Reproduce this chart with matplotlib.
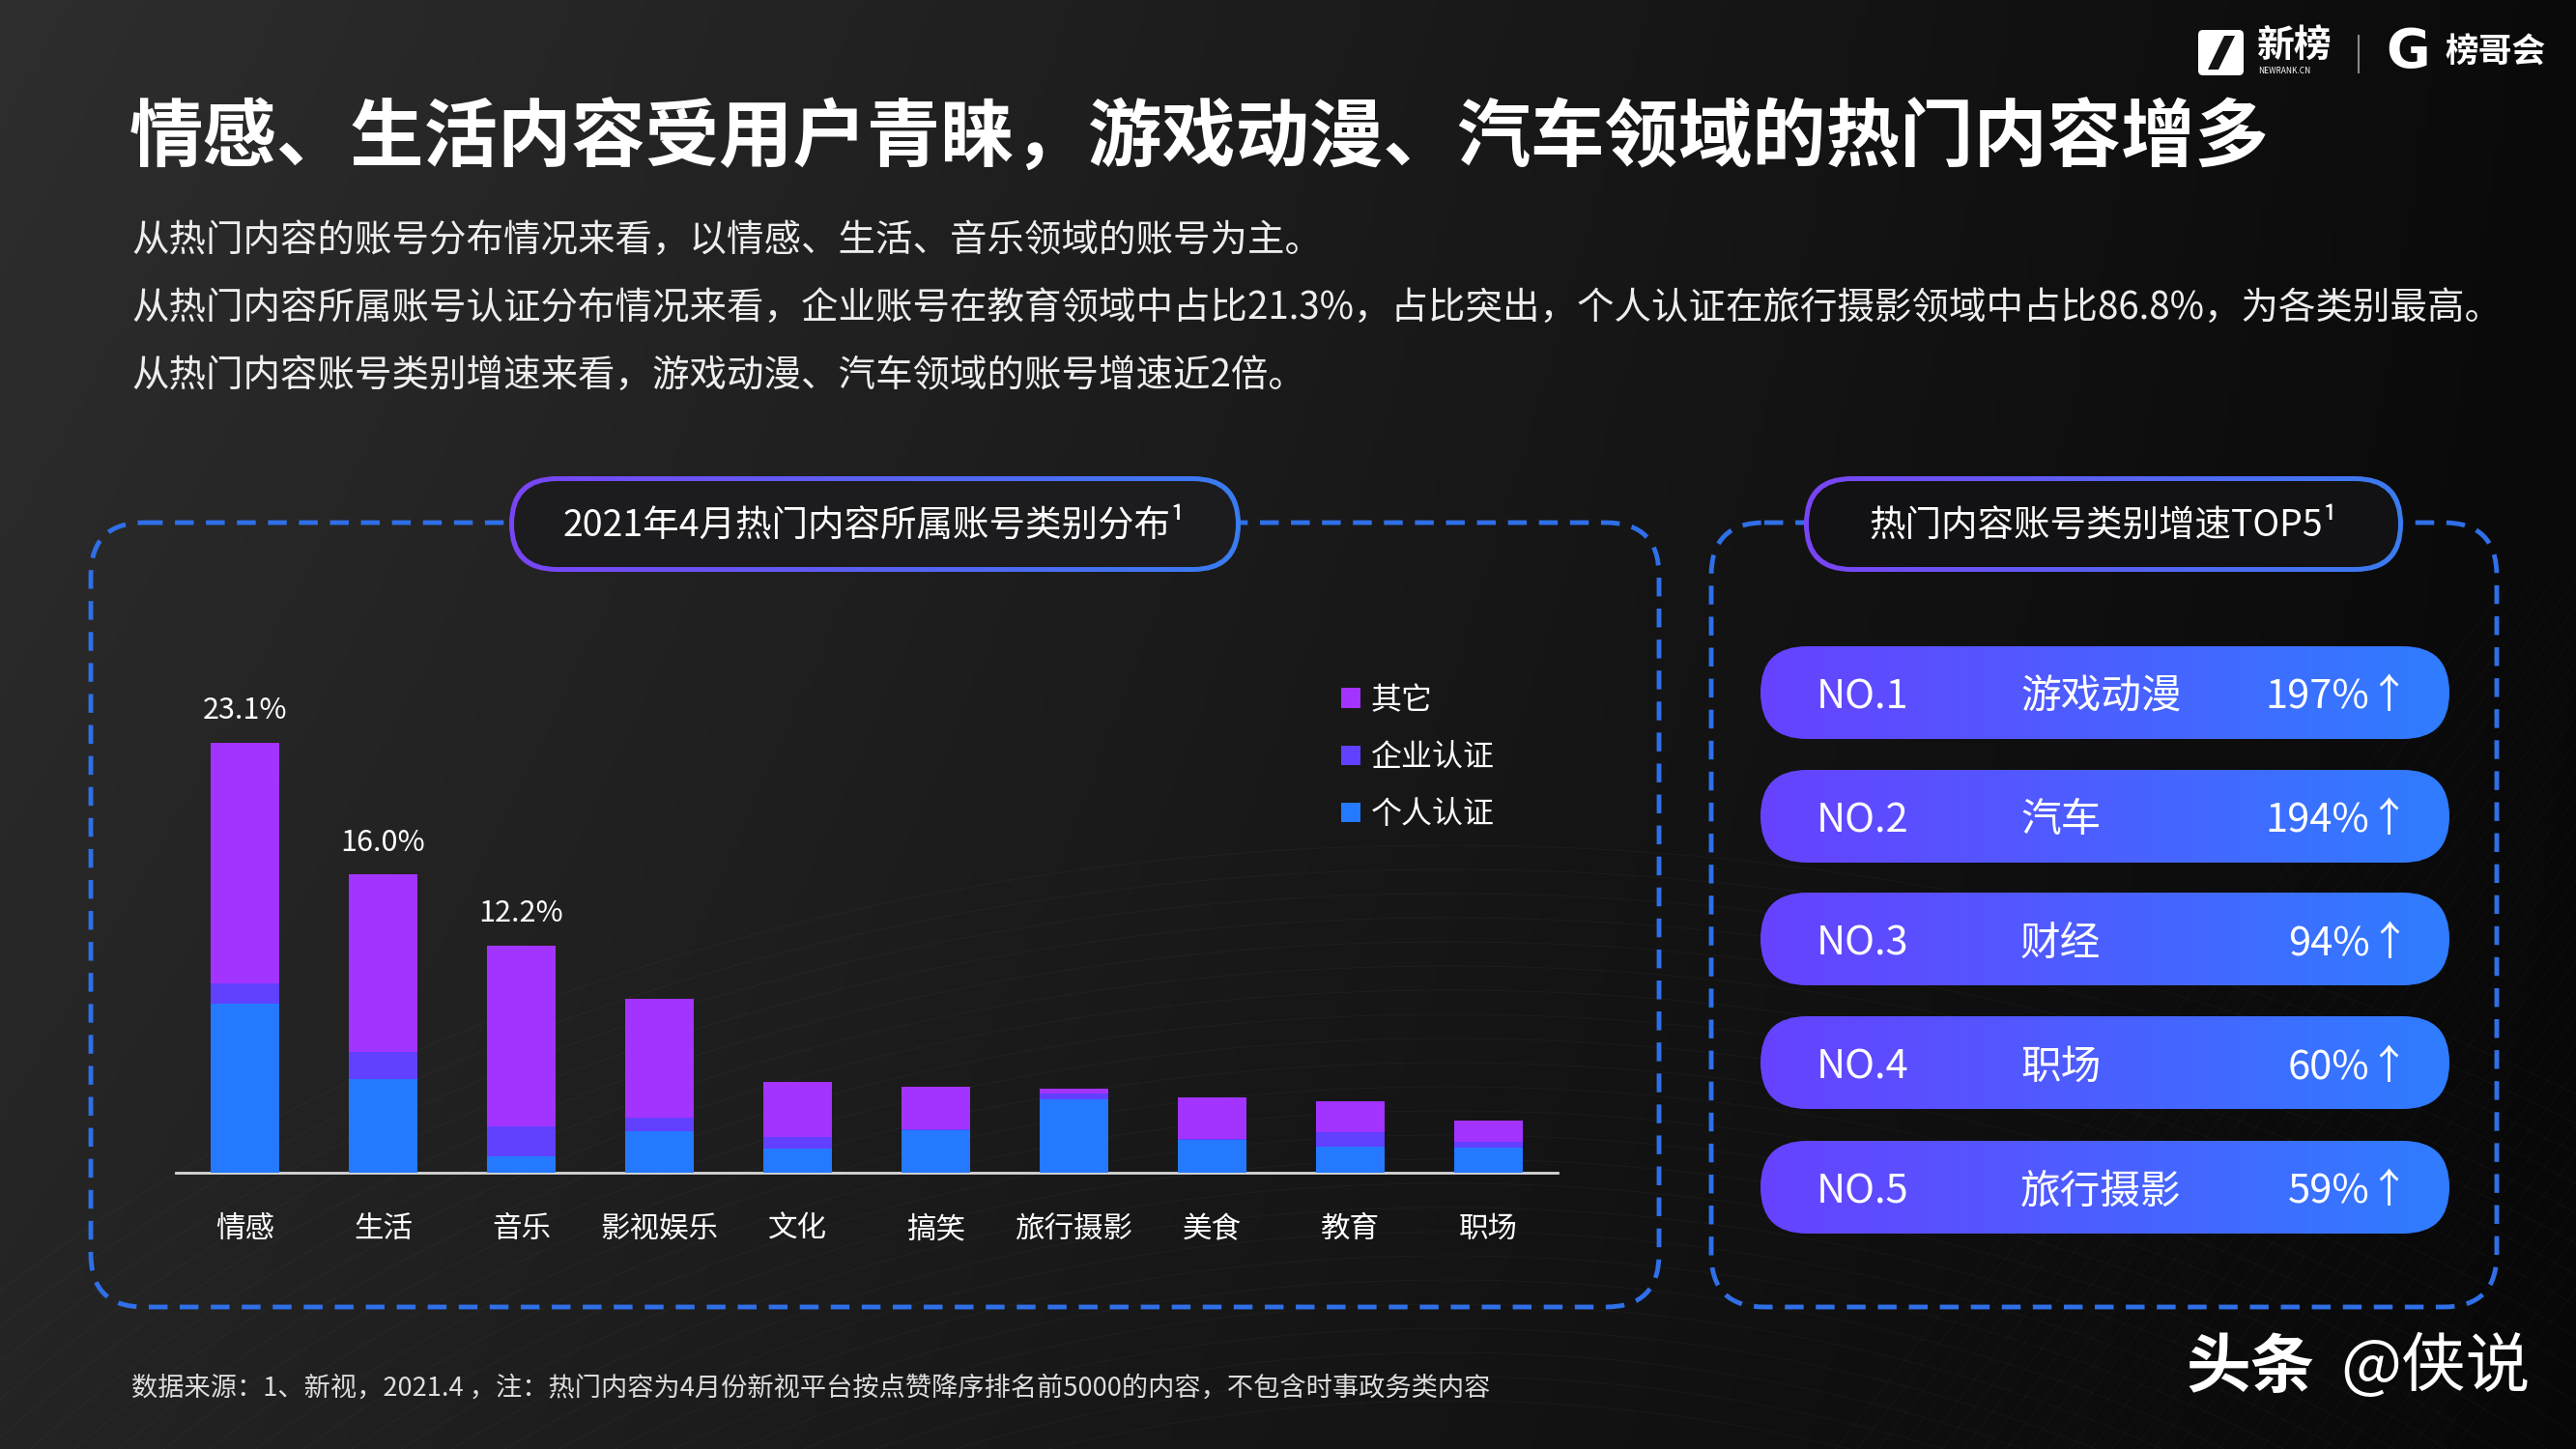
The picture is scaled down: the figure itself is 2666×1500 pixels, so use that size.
import numpy as np
import matplotlib.pyplot as plt
from matplotlib.patches import FancyBboxPatch, Rectangle, Polygon
from matplotlib.colors import LinearSegmentedColormap

plt.rcParams['font.family'] = ['Noto Sans CJK SC', 'DejaVu Sans']

# ---- data (share of hot content, %) ----
categories = ['情感', '生活', '音乐', '影视娱乐', '文化', '搞笑', '旅行摄影', '美食', '教育', '职场']
personal = [9.05, 5.04, 0.90, 2.23, 1.29, 2.27, 3.93, 1.74, 1.42, 1.35]
enterprise = [1.13, 1.42, 1.61, 0.74, 0.65, 0.07, 0.31, 0.05, 0.78, 0.30]
other = [12.92, 9.54, 9.69, 6.34, 2.93, 2.28, 0.28, 2.25, 1.62, 1.16]
value_labels = ['23.1%', '16.0%', '12.2%', '', '', '', '', '', '', '']
legend_names = ['其它', '企业认证', '个人认证']

rank_no = ['NO.1', 'NO.2', 'NO.3', 'NO.4', 'NO.5']
rank_names = ['游戏动漫', '汽车', '财经', '职场', '旅行摄影']
rank_growth = [197, 194, 94, 60, 59]

title = '情感、生活内容受用户青睐，游戏动漫、汽车领域的热门内容增多'
notes = [
    '从热门内容的账号分布情况来看，以情感、生活、音乐领域的账号为主。',
    '从热门内容所属账号认证分布情况来看，企业账号在教育领域中占比21.3%，占比突出，个人认证在旅行摄影领域中占比86.8%，为各类别最高。',
    '从热门内容账号类别增速来看，游戏动漫、汽车领域的账号增速近2倍。',
]
left_title = '2021年4月热门内容所属账号类别分布¹'
right_title = '热门内容账号类别增速TOP5¹'
source = '数据来源：1、新视，2021.4 ，注：热门内容为4月份新视平台按点赞降序排名前5000的内容，不包含时事政务类内容'

c_other = '#a333ff'
c_ent = '#6140ff'
c_pers = '#2479ff'
c_dash = '#2f6fe8'

W, H = 2666, 1500
fig = plt.figure(figsize=(W / 100, H / 100), dpi=100)
fig.patch.set_facecolor('#141414')

# background axes in pixel units (y down)
bg = fig.add_axes([0, 0, 1, 1])
bg.axis('off')

xx, yy = np.meshgrid(np.linspace(0, 1, 400), np.linspace(0, 1, 225))
shade = np.clip(0.18 - 0.14 * xx - 0.04 * yy + 0.03 * xx * yy, 0.03, 1)
bg.imshow(np.dstack([shade] * 3), extent=[0, W, H, 0], aspect='auto', zorder=0)

# faint decorative curves
t = np.linspace(0, np.pi, 300)
for r in np.arange(900, 1500, 25):
    bg.plot(1500 + r * 1.4 * np.cos(t), 2350 - r * np.sin(t) * 1.0, color='white', lw=0.6, alpha=0.04, zorder=1)
for k in range(30):
    x0 = 1900 + k * 22
    bg.plot([x0, x0 + 700], [1500, 600], color='white', lw=0.6, alpha=0.035, zorder=1)

bg.set_xlim(0, W)
bg.set_ylim(H, 0)


def pill(x0, y0, x1, y1, c_left, c_right, inner=None, border=5, z=3):
    r = (y1 - y0) / 2
    outer = FancyBboxPatch((x0, y0), x1 - x0, y1 - y0,
                           boxstyle=f'round,pad=0,rounding_size={r}',
                           fc='none', ec='none', zorder=z)
    bg.add_patch(outer)
    cmap = LinearSegmentedColormap.from_list('pill', [c_left, c_right])
    im = bg.imshow(np.linspace(0, 1, 256)[None, :], cmap=cmap,
                   extent=[x0, x1, y1, y0], aspect='auto', zorder=z)
    im.set_clip_path(outer)
    if inner:
        bg.add_patch(FancyBboxPatch((x0 + border, y0 + border), x1 - x0 - 2 * border,
                                    y1 - y0 - 2 * border,
                                    boxstyle=f'round,pad=0,rounding_size={r - border}',
                                    fc=inner, ec='none', zorder=z + 1))


# dashed panels
for x0, x1 in [(94, 1717), (1771, 2584)]:
    bg.add_patch(FancyBboxPatch((x0, 541), x1 - x0, 1353 - 541,
                                boxstyle='round,pad=0,rounding_size=55',
                                fill=False, ec=c_dash, lw=3.5, ls=(0, (4, 2.6)), zorder=2))

pill(527, 493, 1284, 592, '#7a45f5', '#3a7cf0', inner='#1c1c1e')
bg.text(905, 544, left_title, color='white', fontsize=27, ha='center', va='center', zorder=6)
pill(1867, 493, 2487, 592, '#7a45f5', '#3a7cf0', inner='#121214')
bg.text(2177, 544, right_title, color='white', fontsize=27, ha='center', va='center', zorder=6)

# ranking pills
centers = [717, 845, 972, 1100, 1229]
for yc, no, name, g in zip(centers, rank_no, rank_names, rank_growth):
    pill(1822, yc - 48, 2535, yc + 48, '#6742ff', '#2f7dff')
    bg.text(1880, yc + 5, no, color='white', fontsize=30, ha='left', va='center', zorder=6, weight='medium')
    bg.text(2091, yc + 5, name, color='white', fontsize=30, ha='left', va='center', zorder=6, weight='medium')
    bg.text(2494, yc + 5, f'{g}%↑', color='white', fontsize=30, ha='right', va='center', zorder=6, weight='medium')

# headline and notes
bg.text(134, 144, title, color='white', fontsize=55, weight='bold', ha='left', va='center')
for yv, line in zip([249, 319, 389], notes):
    bg.text(136, yv, line, color='#eeeeee', fontsize=27.7, ha='left', va='center')
bg.text(136, 1437, source, color='#dddddd', fontsize=19.6, ha='left', va='center')

# watermark
bg.text(2262, 1416, '头条', color='white', fontsize=48, weight='bold', ha='left', va='center')
bg.text(2618, 1416, '@侠说', color='white', fontsize=48, ha='right', va='center')

# logos top-right
bg.add_patch(FancyBboxPatch((2275, 31), 47, 47, boxstyle='round,pad=0,rounding_size=5',
                            fc='white', ec='none'))
bg.add_patch(Polygon([[2285, 72], [2296, 72], [2313, 37], [2302, 37]], closed=True,
                     fc='#141414', ec='none'))
bg.text(2336, 47, '新榜', color='white', fontsize=28, weight='bold', ha='left', va='center')
bg.text(2337, 74, 'NEWRANK.CN', color='white', fontsize=6, ha='left', va='center')
bg.plot([2441, 2441], [37, 75], color='#888888', lw=1.5)
bg.text(2492, 54, 'G', color='white', fontsize=40, weight='bold', ha='center', va='center',
        family='DejaVu Sans')
bg.text(2530, 54, '榜哥会', color='white', fontsize=25, weight='bold', ha='left', va='center')

# ---- stacked bar chart ----
ax = fig.add_axes([182 / W, (H - 1214) / H, 1430 / W, 540 / H])
ax.patch.set_alpha(0)
x = np.arange(len(categories))
pers = np.array(personal)
ent = np.array(enterprise)
oth = np.array(other)
b1 = ax.bar(x, pers, width=0.5, color=c_pers, zorder=3)
b2 = ax.bar(x, ent, width=0.5, bottom=pers, color=c_ent, zorder=3)
b3 = ax.bar(x, oth, width=0.5, bottom=pers + ent, color=c_other, zorder=3)
for xi, tot, lab in zip(x, pers + ent + oth, value_labels):
    if lab:
        ax.annotate(lab, (xi, tot), xytext=(0, 24), textcoords='offset points',
                    ha='center', va='center', color='white', fontsize=22)
ax.set_xlim(-0.5, 9.5)
ax.set_ylim(0, 28)
ax.set_xticks(x)
ax.set_xticklabels(categories, color='white', fontsize=22)
ax.tick_params(axis='x', length=0, pad=31)
ax.set_yticks([])
for s in ['top', 'right', 'left']:
    ax.spines[s].set_visible(False)
ax.spines['bottom'].set_color('#d8d8d8')
ax.spines['bottom'].set_linewidth(2)

leg = ax.legend([b3, b2, b1], legend_names, loc='upper left',
                bbox_to_anchor=(1388 / W, 1 - 709 / H), bbox_transform=fig.transFigure,
                frameon=False, fontsize=23, labelcolor='white', handlelength=0.62,
                handleheight=0.62, handletextpad=0.35, labelspacing=0.85,
                borderpad=0, borderaxespad=0)

fig.savefig('out.png', dpi=100, facecolor=fig.get_facecolor())
